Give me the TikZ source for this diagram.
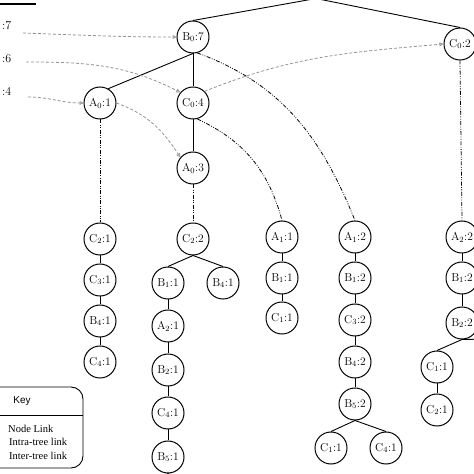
\documentclass[tikz,border=0pt]{standalone}
\usepackage{fontspec}
\newfontfamily\keyserif{Liberation Serif}
\newfontfamily\keysans{Liberation Sans}
\usetikzlibrary{arrows.meta}
\begin{document}
\begin{tikzpicture}[x=1pt,y=1pt,
  tn/.style={circle,draw,line width=1pt,minimum size=32pt,inner sep=0pt,font=\fontsize{11.5}{13}\selectfont},
  nodelink/.style={line width=0.9pt},
  intralink/.style={line width=0.8pt,dash pattern=on 4pt off 1.5pt on 0.8pt off 1.5pt on 0.8pt off 1.5pt},
  interlink/.style={gray!85,line width=0.8pt,dash pattern=on 3pt off 2pt,-{Triangle[open,length=4pt,width=4pt]}},
  hdr/.style={font=\fontsize{12}{14}\selectfont,anchor=west,inner sep=0pt},
  keytext/.style={font=\keyserif\fontsize{10.5}{12}\selectfont,anchor=west,inner sep=0pt}
]
\useasboundingbox (0,0) rectangle (474,474);
\clip (0,0) rectangle (474,474);

% header table fragment
\coordinate (hl) at (-5,470);
\coordinate (hr) at (36,470);
\draw[line width=1.2pt] (hl) -- (hr);
\node[hdr] (h7) at (2,448) {:7};
\node[hdr] (h6) at (2,415) {:6};
\node[hdr] (h4) at (2,383) {:4};
\coordinate (s7) at (23,441);
\coordinate (s6) at (26,412);
\coordinate (s4) at (28,377);

% tree nodes
\node[tn] (B0) at (193,437) {B$_0$:7};
\node[tn] (C0a) at (193,371) {C$_0$:4};
\node[tn] (A0a) at (100,371) {A$_0$:1};
\node[tn] (A0b) at (193,306) {A$_0$:3};
\node[tn] (C0b) at (460,430) {C$_0$:2};
\coordinate (root) at (316,475.5);

\node[tn] (C2a) at (100,235) {C$_2$:1};
\node[tn] (C3a) at (100,194) {C$_3$:1};
\node[tn] (B4a) at (100,153) {B$_4$:1};
\node[tn] (C4a) at (100,112) {C$_4$:1};

\node[tn] (C2b) at (193,235) {C$_2$:2};
\node[tn] (B1a) at (168,191) {B$_1$:1};
\node[tn] (B4b) at (223,191) {B$_4$:1};
\node[tn] (A2a) at (168,148) {A$_2$:1};
\node[tn] (B2a) at (168,104) {B$_2$:1};
\node[tn] (C4b) at (168,61) {C$_4$:1};
\node[tn] (B5a) at (168,17) {B$_5$:1};
\coordinate (b5l) at (150,-10);
\coordinate (b5r) at (186,-10);

\node[tn] (A1a) at (282,237) {A$_1$:1};
\node[tn] (B1b) at (282,196) {B$_1$:1};
\node[tn] (C1a) at (282,156) {C$_1$:1};

\node[tn] (A1b) at (355,237) {A$_1$:2};
\node[tn] (B1c) at (355,196) {B$_1$:2};
\node[tn] (C3b) at (355,154) {C$_3$:2};
\node[tn] (B4c) at (355,112) {B$_4$:2};
\node[tn] (B5b) at (355,70) {B$_5$:2};
\node[tn] (C1b) at (331,26) {C$_1$:1};
\node[tn] (C4c) at (386,26) {C$_4$:1};

\node[tn] (A2b) at (462,237) {A$_2$:2};
\node[tn] (B1d) at (462,196) {B$_1$:2};
\node[tn] (B2b) at (462,151) {B$_2$:2};
\node[tn] (C1c) at (437,107) {C$_1$:1};
\node[tn] (C2c) at (437,64) {C$_2$:1};
\coordinate (b2r) at (490,135);

% node links
\draw[nodelink] (B0.north) -- (root) -- (C0b.north);
\draw[nodelink] (B0.south) -- (A0a.60);
\foreach \a/\b in {B0/C0a,C0a/A0b,C2a/C3a,C3a/B4a,B4a/C4a,C2b/B1a,C2b/B4b,B1a/A2a,A2a/B2a,B2a/C4b,C4b/B5a,
  A1a/B1b,B1b/C1a,A1b/B1c,B1c/C3b,C3b/B4c,B4c/B5b,B5b/C1b,B5b/C4c,A2b/B1d,B1d/B2b,B2b/C1c,C1c/C2c}
  \draw[nodelink] (\a.south) -- (\b.north);
\draw[nodelink] (B5a.south) -- (b5l);
\draw[nodelink] (B5a.south) -- (b5r);
\draw[nodelink] (B2b.south) -- (b2r);

% intra-tree links
\draw[intralink] (A0a.south) -- (C2a.north);
\draw[intralink] (A0b.south) -- (C2b.north);
\draw[intralink] (C0b.south) -- (A2b.north);
\draw[intralink] (C0a.-75) to[out=-25,in=105] (A1a.north);
\draw[intralink] (B0.-75) to[out=-20,in=112] (A1b.north);

% inter-tree links
\draw[interlink] (s7) to[out=-2,in=180] (B0.west);
\draw[interlink] (s6) to[out=0,in=153] (C0a.140);
\draw[interlink] (C0a.45) to[out=22,in=185] (C0b.west);
\draw[interlink] (s4) to[out=0,in=180] (A0a.west);
\draw[interlink] (A0a.east) to[out=-20,in=123] (A0b.140);

% key
\coordinate (kl) at (-20,59);
\coordinate (kr) at (83,59);
\draw[line width=0.9pt,rounded corners=12pt] (-20,6) rectangle (83,87);
\draw[line width=0.9pt] (kl) -- (kr);
\node[font=\keysans\fontsize{10}{12}\selectfont] (keyt) at (22,73) {Key};
\node[keytext] (k1) at (8,45) {Node Link};
\node[keytext] (k2) at (9,32) {Intra-tree link};
\node[keytext] (k3) at (9,18) {Inter-tree link};
\end{tikzpicture}
\end{document}
